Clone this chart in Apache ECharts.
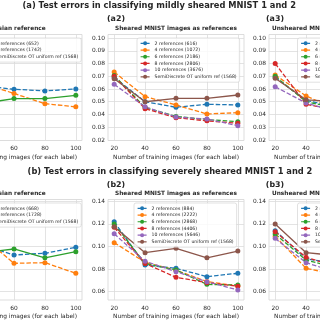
<!DOCTYPE html>
<html><head><meta charset="utf-8">
<script src="https://cdn.jsdelivr.net/npm/echarts@6/dist/echarts.min.js"></script>
<style>html,body{margin:0;padding:0;background:#fff}#c{width:320px;height:320px}</style>
</head><body><div id="c"></div>
<script>
// ---- data ----
const trainingImages = [20, 40, 60, 80, 100];
const xTicks = [20, 40, 60, 80, 100];
const yTicksA = [0.02, 0.03, 0.04, 0.05, 0.06, 0.07, 0.08, 0.09, 0.10];
const yTicksB = [0.06, 0.08, 0.10, 0.12, 0.14];

// (a) mildly sheared
const a1Names = ['2 references (652)', '4 references (1742)', 'SemiDiscrete OT uniform ref (1568)'];
const a1Ref2 = [0.068, 0.0625, 0.0598, 0.0585, 0.0600];
const a1Ref4 = [0.072, 0.0643, 0.0565, 0.0485, 0.0460];
const a1Semi = [0.058, 0.0487, 0.0525, 0.0525, 0.0550];

const a2Names = ['2 references (616)', '4 references (1072)', '6 references (2186)', '8 references (2806)', '10 references (3676)', 'SemiDiscrete OT uniform ref (1568)'];
const a2Ref2 = [0.069, 0.0500, 0.0457, 0.0480, 0.0475];
const a2Ref4 = [0.0733, 0.0540, 0.0475, 0.0404, 0.0414];
const a2Ref6 = [0.0705, 0.0455, 0.0385, 0.0360, 0.0344];
const a2Ref8 = [0.0700, 0.0445, 0.0375, 0.0350, 0.0331];
const a2Ref10 = [0.0637, 0.0460, 0.0380, 0.0365, 0.0312];
const a2Semi = [0.0680, 0.0500, 0.0527, 0.0527, 0.0553];

const a3Names = ['2 references', '4 references', '6 references', '8 references', '10 references', 'SemiDiscrete OT uniform ref (1568)'];
const a3Ref2 = [0.069, 0.051, 0.046, 0.040, 0.037];
const a3Ref4 = [0.071, 0.0545, 0.044, 0.039, 0.036];
const a3Ref6 = [0.070, 0.050, 0.045, 0.039, 0.035];
const a3Ref8 = [0.080, 0.048, 0.0433, 0.038, 0.034];
const a3Ref10 = [0.0618, 0.049, 0.042, 0.037, 0.033];
const a3Semi = [0.0684, 0.0515, 0.050, 0.050, 0.052];

// (b) severely sheared
const b1Names = ['2 references (668)', '4 references (1728)', 'SemiDiscrete OT uniform ref (1568)'];
const b1Ref2 = [0.125, 0.1009, 0.0925, 0.0940, 0.0993];
const b1Ref4 = [0.128, 0.1080, 0.0851, 0.0857, 0.0763];
const b1Semi = [0.118, 0.0945, 0.0978, 0.0900, 0.0954];

const b2Names = ['2 references (884)', '4 references (2222)', '6 references (2868)', '8 references (4406)', '10 references (5646)', 'SemiDiscrete OT uniform ref (1568)'];
const b2Ref2 = [0.1219, 0.0836, 0.0807, 0.0733, 0.0763];
const b2Ref4 = [0.1034, 0.0860, 0.0790, 0.0690, 0.0650];
const b2Ref6 = [0.1200, 0.0850, 0.0792, 0.0665, 0.0659];
const b2Ref8 = [0.1170, 0.0850, 0.0727, 0.0680, 0.0648];
const b2Ref10 = [0.1112, 0.0870, 0.0777, 0.0688, 0.0615];
const b2Semi = [0.1175, 0.0945, 0.0984, 0.0900, 0.0960];

const b3Names = ['2 references', '4 references', '6 references', '8 references', '10 references', 'SemiDiscrete OT uniform ref (1568)'];
const b3Ref2 = [0.114, 0.089, 0.085, 0.078, 0.076];
const b3Ref4 = [0.109, 0.0807, 0.075, 0.070, 0.068];
const b3Ref6 = [0.111, 0.088, 0.081, 0.074, 0.071];
const b3Ref8 = [0.1131, 0.0904, 0.082, 0.075, 0.072];
const b3Ref10 = [0.1072, 0.0857, 0.077, 0.071, 0.069];
const b3Semi = [0.1199, 0.0945, 0.092, 0.090, 0.093];

// ---- styling / layout ----
const C = {blue:'#1f77b4', orange:'#ff7f0e', green:'#2ca02c', red:'#d62728', purple:'#9467bd', brown:'#8c564b'};
const FONT = 'DejaVu Sans';
const TXT = '#262626';
const sixColors = [C.blue, C.orange, C.green, C.red, C.purple, C.brown];
const threeColors = [C.blue, C.orange, C.green];

const panels = [
  {names:a1Names, vals:[a1Ref2,a1Ref4,a1Semi], colors:threeColors, left:-54, top:34.5, height:106, yr:[0.0196,0.10275], yt:yTicksA, title:'Gaussian reference', legLeft:-21.4, legTop:38},
  {names:a2Names, vals:[a2Ref2,a2Ref4,a2Ref6,a2Ref8,a2Ref10,a2Semi], colors:sixColors, left:108, top:34.5, height:106, yr:[0.0196,0.10275], yt:yTicksA, title:'Sheared MNIST images as references', legLeft:137, legTop:38},
  {names:a3Names, vals:[a3Ref2,a3Ref4,a3Ref6,a3Ref8,a3Ref10,a3Semi], colors:sixColors, left:269, top:34.5, height:106, yr:[0.0196,0.10275], yt:yTicksA, title:'Unsheared MNIST images as references', legLeft:297.5, legTop:38},
  {names:b1Names, vals:[b1Ref2,b1Ref4,b1Semi], colors:threeColors, left:-54, top:199.5, height:100.5, yr:[0.05265,0.1416], yt:yTicksB, title:'Gaussian reference', legLeft:-21.4, legTop:203},
  {names:b2Names, vals:[b2Ref2,b2Ref4,b2Ref6,b2Ref8,b2Ref10,b2Semi], colors:sixColors, left:108, top:199.5, height:100.5, yr:[0.05265,0.1416], yt:yTicksB, title:'Sheared MNIST images as references', legLeft:134, legTop:203},
  {names:b3Names, vals:[b3Ref2,b3Ref4,b3Ref6,b3Ref8,b3Ref10,b3Semi], colors:sixColors, left:269, top:199.5, height:100.5, yr:[0.05265,0.1416], yt:yTicksB, title:'Unsheared MNIST images as references', legLeft:297.5, legTop:203}
];
const PW = 136;

const grid = [], xAxis = [], yAxis = [], series = [], legend = [], graphic = [];
panels.forEach((p, gi) => {
  grid.push({left:p.left, top:p.top, width:PW, height:p.height, show:true, borderColor:'#d4d4d4', borderWidth:0.8, backgroundColor:'transparent', containLabel:false, outerBoundsMode:'none'});
  xAxis.push({type:'value', gridIndex:gi, min:16, max:104,
    axisLine:{show:false}, axisTick:{show:false, customValues:xTicks},
    axisLabel:{customValues:xTicks, fontSize:5.9, color:TXT, margin:5, fontFamily:FONT},
    splitLine:{show:true, lineStyle:{color:'#dcdcdc', width:0.8}},
    name:'Number of training images (for each label)', nameLocation:'middle', nameGap:13.5,
    nameTextStyle:{fontSize:5.9, color:TXT, fontFamily:FONT}});
  yAxis.push({type:'value', gridIndex:gi, min:p.yr[0], max:p.yr[1],
    axisLine:{show:false}, axisTick:{show:false, customValues:p.yt},
    axisLabel:{customValues:p.yt, formatter:v => v.toFixed(2), fontSize:5.9, color:TXT, margin:3, fontFamily:FONT},
    splitLine:{show:true, lineStyle:{color:'#dcdcdc', width:0.8}}});
  const n = p.names.length;
  p.names.forEach((name, k) => {
    const solid = k === n - 1;
    series.push({type:'line', name, xAxisIndex:gi, yAxisIndex:gi,
      data: trainingImages.map((x, i) => [x, p.vals[k][i]]),
      symbol:'circle', symbolSize:5, showSymbol:true, clip:true, animation:false,
      lineStyle:{color:p.colors[k], width:1.3, type: solid ? 'solid' : [4.5, 2]},
      itemStyle:{color:p.colors[k]}, emphasis:{disabled:true}});
  });
  legend.push({orient:'vertical', left:p.legLeft, top:p.legTop, itemWidth:9, itemHeight:5, itemGap:0,
    padding:[2,3], selectedMode:false, align:'left',
    backgroundColor:'rgba(255,255,255,0.8)', borderColor:'#cccccc', borderWidth:0.6, borderRadius:2,
    textStyle:{fontSize:4.6, lineHeight:6.7, color:TXT, fontFamily:FONT},
    data: p.names.map((name, k) => ({name, itemStyle:{color:p.colors[k]},
      lineStyle:{color:p.colors[k], width:1.2, type: k === n - 1 ? 'solid' : [4, 2]}}))});
  graphic.push({type:'text', x:p.left + PW / 2, y:p.top - 3.5,
    style:{text:p.title, fontSize:5.8, fontWeight:'bold', fontFamily:FONT, fill:TXT,
      align:'center', verticalAlign:'bottom', textAlign:'center', textVerticalAlign:'bottom'}});
});

function label(text, x, y, size) {
  return {type:'text', x, y, style:{text, fontSize:size, fontWeight:'bold', fontFamily:FONT, fill:TXT,
    align:'center', verticalAlign:'middle', textAlign:'center', textVerticalAlign:'middle'}};
}
graphic.push(label('(a) Test errors in classifying mildly sheared MNIST 1 and 2', 159.2, 5.5, 8.3));
graphic.push(label('(a2)', 116, 19, 7.9));
graphic.push(label('(a3)', 275, 19, 7.9));
graphic.push(label('(b) Test errors in classifying severely sheared MNIST 1 and 2', 170, 172.3, 8.3));
graphic.push(label('(b2)', 116, 184.5, 7.9));
graphic.push(label('(b3)', 275, 185, 7.9));

const chart = echarts.init(document.getElementById('c'), null, {renderer:'canvas'});
chart.setOption({
  animation:false, backgroundColor:'#ffffff',
  textStyle:{fontFamily:FONT},
  grid, xAxis, yAxis, series, legend, graphic
});
</script></body></html>
